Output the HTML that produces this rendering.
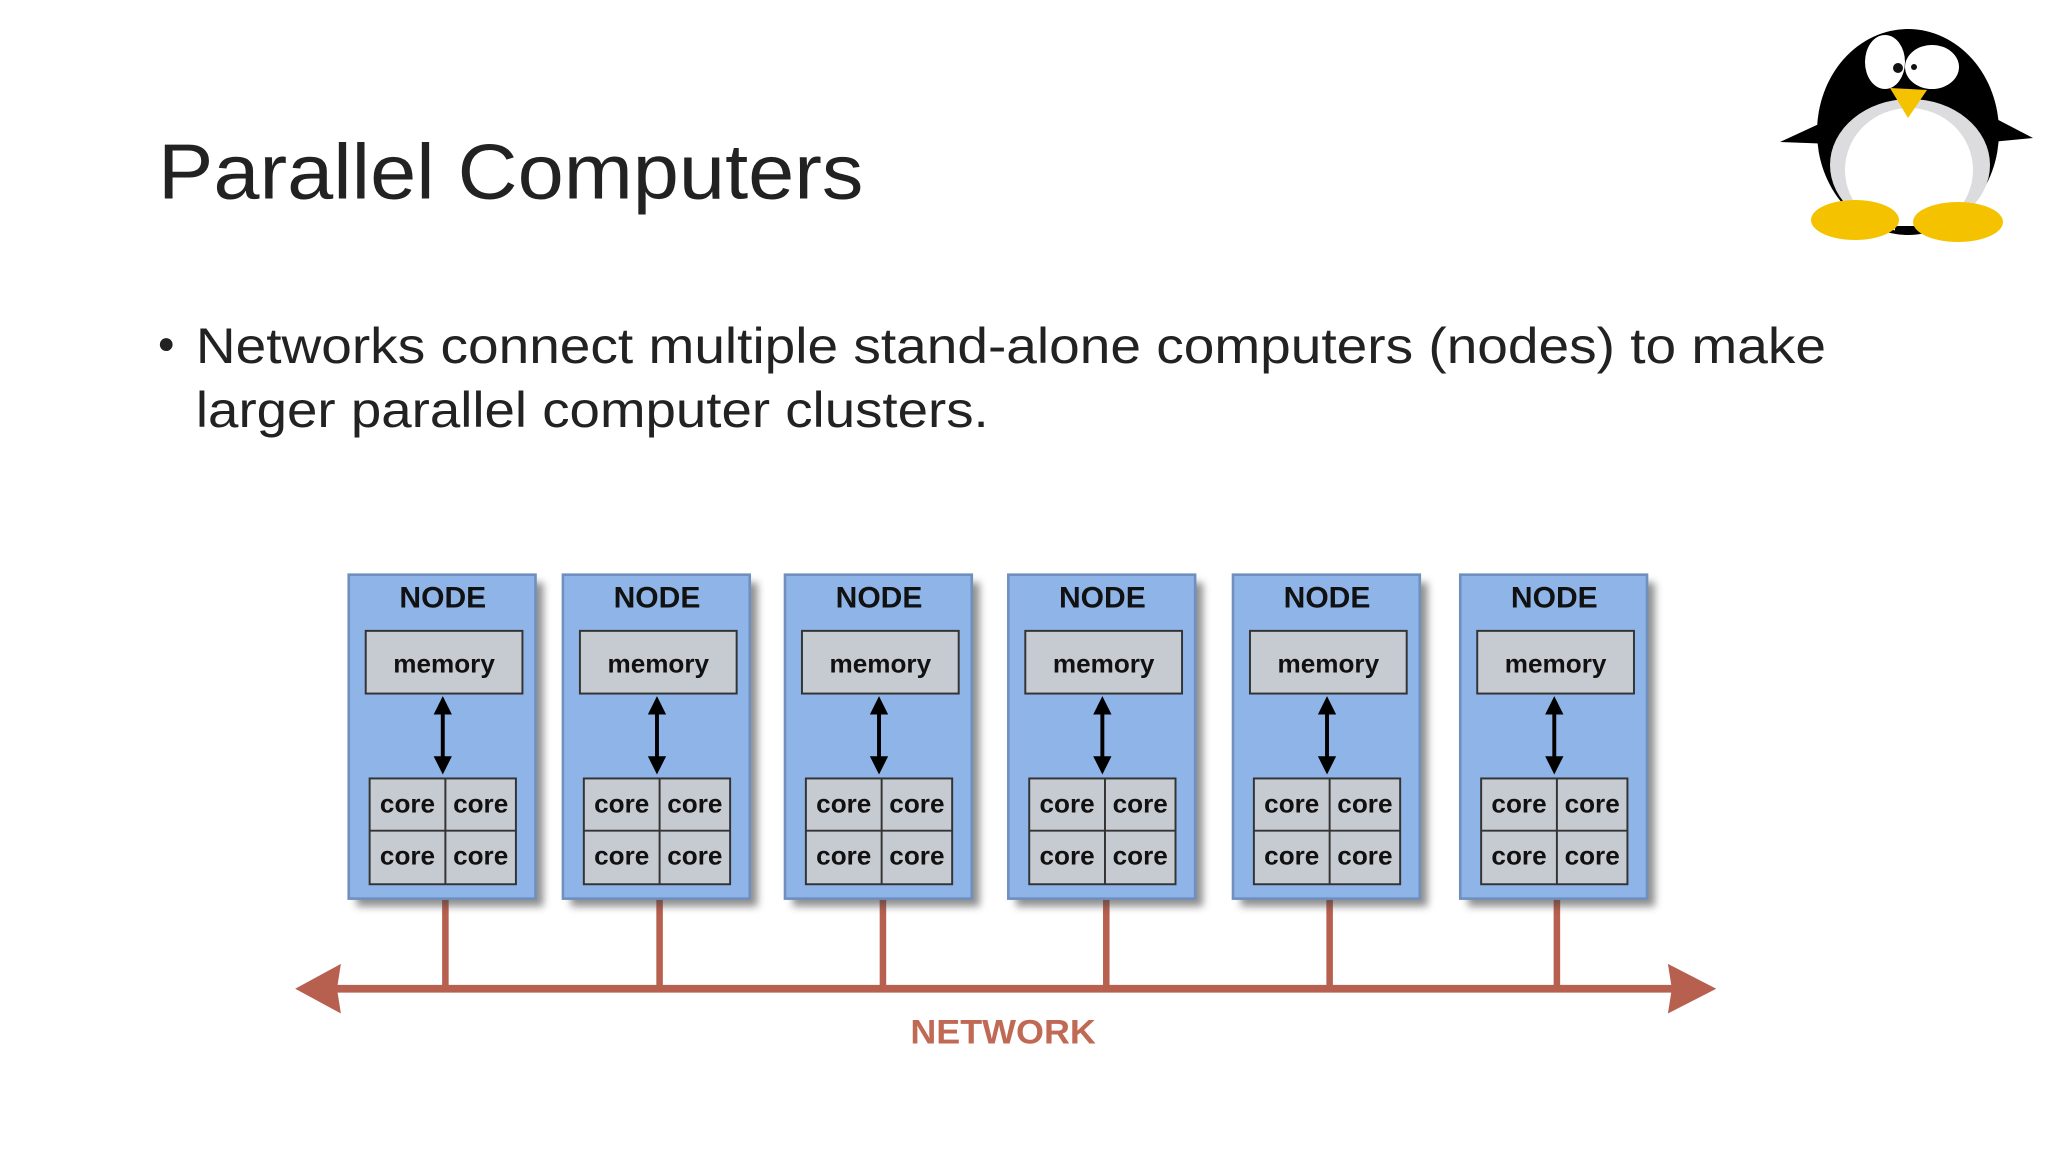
<!DOCTYPE html>
<html><head><meta charset="utf-8"><style>
html,body{margin:0;padding:0;background:#fff;}
svg{display:block;}
</style></head><body>
<svg width="2048" height="1152" viewBox="0 0 1568 882" xmlns="http://www.w3.org/2000/svg">
<defs>
<filter id="sh" x="-20%" y="-20%" width="150%" height="150%"><feGaussianBlur stdDeviation="3"/></filter>
</defs>
<rect width="1568" height="882" fill="#fff"/>
<text x="121" y="152" font-family="Liberation Sans, sans-serif" font-size="60" fill="#222" textLength="540" lengthAdjust="spacingAndGlyphs">Parallel Computers</text>
<text x="121" y="276" font-family="Liberation Sans, sans-serif" font-size="36" fill="#222">•</text>
<text x="150" y="278" font-family="Liberation Sans, sans-serif" font-size="38.5" fill="#222" textLength="1248" lengthAdjust="spacingAndGlyphs">Networks connect multiple stand-alone computers (nodes) to make</text>
<text x="150" y="327" font-family="Liberation Sans, sans-serif" font-size="38.5" fill="#222" textLength="607" lengthAdjust="spacingAndGlyphs">larger parallel computer clusters.</text>

<!-- network -->
<g>
<line x1="240" y1="764" x2="1300" y2="764" stroke="#777" stroke-width="8" filter="url(#sh)"/>
<g stroke="#b8604f" stroke-width="5" fill="none">
<line x1="341" y1="688" x2="341" y2="757"/>
<line x1="505" y1="688" x2="505" y2="757"/>
<line x1="676" y1="688" x2="676" y2="757"/>
<line x1="847" y1="688" x2="847" y2="757"/>
<line x1="1018" y1="688" x2="1018" y2="757"/>
<line x1="1192" y1="688" x2="1192" y2="757"/>
<line x1="250" y1="757" x2="1290" y2="757" stroke-width="6"/>
</g>
<polygon points="226,757 261,738 258,757 261,776" fill="#b8604f"/>
<polygon points="1314,757 1277,738 1280,757 1277,776" fill="#b8604f"/>
<text x="768" y="799" text-anchor="middle" font-family="Liberation Sans, sans-serif" font-weight="bold" font-size="26" fill="#c06a55" textLength="142" lengthAdjust="spacingAndGlyphs">NETWORK</text>
</g>

<!-- nodes -->
<g font-family="Liberation Sans, sans-serif" font-weight="bold" text-anchor="middle" fill="#111">
<g transform="translate(267,440)">
<rect x="6" y="6" width="143" height="248" fill="#444" opacity="0.6" filter="url(#sh)"/>
<rect x="0" y="0" width="143" height="248" fill="#8fb5e8" stroke="#6f8fbf" stroke-width="2"/>
<text x="72" y="25" font-size="23">NODE</text>
<rect x="13" y="43" width="120" height="48" fill="#c6cad1" stroke="#333" stroke-width="1.5"/>
<text x="73" y="75" font-size="20">memory</text>
<line x1="72" y1="104" x2="72" y2="142" stroke="#000" stroke-width="3"/>
<polygon points="72,93 65,107 79,107" fill="#000"/><polygon points="72,153 65,139 79,139" fill="#000"/>
<rect x="16" y="156" width="112" height="81" fill="#c6cad1" stroke="#333" stroke-width="1.5"/>
<line x1="74" y1="156" x2="74" y2="237" stroke="#333" stroke-width="1.5"/><line x1="16" y1="196" x2="128" y2="196" stroke="#333" stroke-width="1.5"/>
<text x="45" y="182" font-size="20">core</text><text x="101" y="182" font-size="20">core</text>
<text x="45" y="222" font-size="20">core</text><text x="101" y="222" font-size="20">core</text>
</g>
<g transform="translate(431,440)">
<rect x="6" y="6" width="143" height="248" fill="#444" opacity="0.6" filter="url(#sh)"/>
<rect x="0" y="0" width="143" height="248" fill="#8fb5e8" stroke="#6f8fbf" stroke-width="2"/>
<text x="72" y="25" font-size="23">NODE</text>
<rect x="13" y="43" width="120" height="48" fill="#c6cad1" stroke="#333" stroke-width="1.5"/>
<text x="73" y="75" font-size="20">memory</text>
<line x1="72" y1="104" x2="72" y2="142" stroke="#000" stroke-width="3"/>
<polygon points="72,93 65,107 79,107" fill="#000"/><polygon points="72,153 65,139 79,139" fill="#000"/>
<rect x="16" y="156" width="112" height="81" fill="#c6cad1" stroke="#333" stroke-width="1.5"/>
<line x1="74" y1="156" x2="74" y2="237" stroke="#333" stroke-width="1.5"/><line x1="16" y1="196" x2="128" y2="196" stroke="#333" stroke-width="1.5"/>
<text x="45" y="182" font-size="20">core</text><text x="101" y="182" font-size="20">core</text>
<text x="45" y="222" font-size="20">core</text><text x="101" y="222" font-size="20">core</text>
</g>
<g transform="translate(601,440)">
<rect x="6" y="6" width="143" height="248" fill="#444" opacity="0.6" filter="url(#sh)"/>
<rect x="0" y="0" width="143" height="248" fill="#8fb5e8" stroke="#6f8fbf" stroke-width="2"/>
<text x="72" y="25" font-size="23">NODE</text>
<rect x="13" y="43" width="120" height="48" fill="#c6cad1" stroke="#333" stroke-width="1.5"/>
<text x="73" y="75" font-size="20">memory</text>
<line x1="72" y1="104" x2="72" y2="142" stroke="#000" stroke-width="3"/>
<polygon points="72,93 65,107 79,107" fill="#000"/><polygon points="72,153 65,139 79,139" fill="#000"/>
<rect x="16" y="156" width="112" height="81" fill="#c6cad1" stroke="#333" stroke-width="1.5"/>
<line x1="74" y1="156" x2="74" y2="237" stroke="#333" stroke-width="1.5"/><line x1="16" y1="196" x2="128" y2="196" stroke="#333" stroke-width="1.5"/>
<text x="45" y="182" font-size="20">core</text><text x="101" y="182" font-size="20">core</text>
<text x="45" y="222" font-size="20">core</text><text x="101" y="222" font-size="20">core</text>
</g>
<g transform="translate(772,440)">
<rect x="6" y="6" width="143" height="248" fill="#444" opacity="0.6" filter="url(#sh)"/>
<rect x="0" y="0" width="143" height="248" fill="#8fb5e8" stroke="#6f8fbf" stroke-width="2"/>
<text x="72" y="25" font-size="23">NODE</text>
<rect x="13" y="43" width="120" height="48" fill="#c6cad1" stroke="#333" stroke-width="1.5"/>
<text x="73" y="75" font-size="20">memory</text>
<line x1="72" y1="104" x2="72" y2="142" stroke="#000" stroke-width="3"/>
<polygon points="72,93 65,107 79,107" fill="#000"/><polygon points="72,153 65,139 79,139" fill="#000"/>
<rect x="16" y="156" width="112" height="81" fill="#c6cad1" stroke="#333" stroke-width="1.5"/>
<line x1="74" y1="156" x2="74" y2="237" stroke="#333" stroke-width="1.5"/><line x1="16" y1="196" x2="128" y2="196" stroke="#333" stroke-width="1.5"/>
<text x="45" y="182" font-size="20">core</text><text x="101" y="182" font-size="20">core</text>
<text x="45" y="222" font-size="20">core</text><text x="101" y="222" font-size="20">core</text>
</g>
<g transform="translate(944,440)">
<rect x="6" y="6" width="143" height="248" fill="#444" opacity="0.6" filter="url(#sh)"/>
<rect x="0" y="0" width="143" height="248" fill="#8fb5e8" stroke="#6f8fbf" stroke-width="2"/>
<text x="72" y="25" font-size="23">NODE</text>
<rect x="13" y="43" width="120" height="48" fill="#c6cad1" stroke="#333" stroke-width="1.5"/>
<text x="73" y="75" font-size="20">memory</text>
<line x1="72" y1="104" x2="72" y2="142" stroke="#000" stroke-width="3"/>
<polygon points="72,93 65,107 79,107" fill="#000"/><polygon points="72,153 65,139 79,139" fill="#000"/>
<rect x="16" y="156" width="112" height="81" fill="#c6cad1" stroke="#333" stroke-width="1.5"/>
<line x1="74" y1="156" x2="74" y2="237" stroke="#333" stroke-width="1.5"/><line x1="16" y1="196" x2="128" y2="196" stroke="#333" stroke-width="1.5"/>
<text x="45" y="182" font-size="20">core</text><text x="101" y="182" font-size="20">core</text>
<text x="45" y="222" font-size="20">core</text><text x="101" y="222" font-size="20">core</text>
</g>
<g transform="translate(1118,440)">
<rect x="6" y="6" width="143" height="248" fill="#444" opacity="0.6" filter="url(#sh)"/>
<rect x="0" y="0" width="143" height="248" fill="#8fb5e8" stroke="#6f8fbf" stroke-width="2"/>
<text x="72" y="25" font-size="23">NODE</text>
<rect x="13" y="43" width="120" height="48" fill="#c6cad1" stroke="#333" stroke-width="1.5"/>
<text x="73" y="75" font-size="20">memory</text>
<line x1="72" y1="104" x2="72" y2="142" stroke="#000" stroke-width="3"/>
<polygon points="72,93 65,107 79,107" fill="#000"/><polygon points="72,153 65,139 79,139" fill="#000"/>
<rect x="16" y="156" width="112" height="81" fill="#c6cad1" stroke="#333" stroke-width="1.5"/>
<line x1="74" y1="156" x2="74" y2="237" stroke="#333" stroke-width="1.5"/><line x1="16" y1="196" x2="128" y2="196" stroke="#333" stroke-width="1.5"/>
<text x="45" y="182" font-size="20">core</text><text x="101" y="182" font-size="20">core</text>
<text x="45" y="222" font-size="20">core</text><text x="101" y="222" font-size="20">core</text>
</g>
</g>

<!-- penguin (drawn in 2048 coords) -->
<g transform="scale(0.765625)">
<polygon points="1780,142 1860,105 1860,145" fill="#000"/>
<polygon points="2033,138 1960,100 1960,145" fill="#000"/>
<ellipse cx="1908" cy="132" rx="91" ry="103" fill="#000"/>
<ellipse cx="1910" cy="165" rx="80" ry="66" fill="#dcdcde"/>
<ellipse cx="1909" cy="170" rx="64" ry="62" fill="#fff"/>
<rect x="1895" y="226" width="30" height="6" fill="#000"/>
<ellipse cx="1885" cy="62" rx="20" ry="27" fill="#fff"/>
<ellipse cx="1932" cy="67" rx="27" ry="22" fill="#fff"/>
<circle cx="1898" cy="68" r="5" fill="#111"/>
<circle cx="1914" cy="67" r="3" fill="#111"/>
<polygon points="1890,88 1927,90 1908,118" fill="#f5c200"/>
<ellipse cx="1855" cy="220" rx="44" ry="20" fill="#f5c200"/>
<ellipse cx="1958" cy="222" rx="45" ry="20" fill="#f5c200"/>
</g>
</svg>
</body></html>
